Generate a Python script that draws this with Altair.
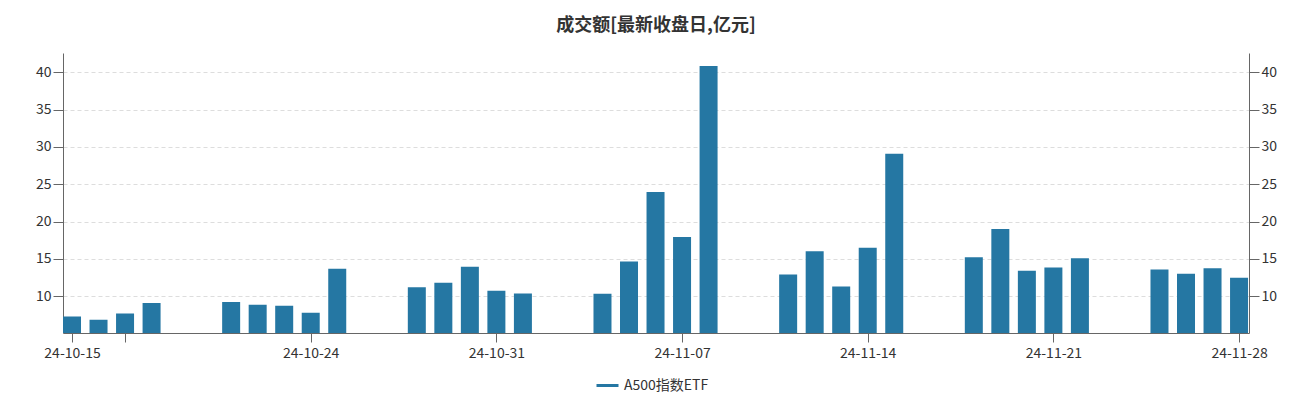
import altair as alt
import pandas as pd

dates = [
    "2024-10-15", "2024-10-16", "2024-10-17", "2024-10-18",
    "2024-10-21", "2024-10-22", "2024-10-23", "2024-10-24", "2024-10-25",
    "2024-10-28", "2024-10-29", "2024-10-30", "2024-10-31", "2024-11-01",
    "2024-11-04", "2024-11-05", "2024-11-06", "2024-11-07", "2024-11-08",
    "2024-11-11", "2024-11-12", "2024-11-13", "2024-11-14", "2024-11-15",
    "2024-11-18", "2024-11-19", "2024-11-20", "2024-11-21", "2024-11-22",
    "2024-11-25", "2024-11-26", "2024-11-27", "2024-11-28",
]
values = [
    7.27, 6.83, 7.67, 9.06,
    9.20, 8.84, 8.70, 7.76, 13.65,
    11.20, 11.78, 13.92, 10.71, 10.35,
    10.31, 14.63, 23.96, 17.94, 40.87,
    12.89, 16.02, 11.29, 16.47, 29.09,
    15.22, 19.00, 13.39, 13.83, 15.09,
    13.56, 12.98, 13.75, 12.45,
]
series_name = "A500指数ETF"
tick_dates = [(2024, 10, 15), (2024, 10, 17), (2024, 10, 24), (2024, 10, 31),
              (2024, 11, 7), (2024, 11, 14), (2024, 11, 21), (2024, 11, 28)]
y_ticks = [10, 15, 20, 25, 30, 35, 40]

FONT = "Noto Sans CJK SC"
BAR = "#2577a3"

df = pd.DataFrame({"date": [d + "T00:00:00Z" for d in dates], "value": values,
                   "series": series_name})

x_domain = [alt.DateTime(year=2024, month=10, date=14, hours=15, minutes=51, utc=True),
            alt.DateTime(year=2024, month=11, date=28, hours=9, minutes=0, utc=True)]
x_vals = [alt.DateTime(year=y, month=m, date=d, utc=True) for (y, m, d) in tick_dates]
y_scale = alt.Scale(domain=[5.05, 42.6], nice=False, zero=False)
x_scale = alt.Scale(type="utc", domain=x_domain, padding=0)

x_enc = alt.X("date:T", title=None, scale=x_scale,
              axis=alt.Axis(values=x_vals, grid=False, tickSize=9, labelPadding=4,
                            labelExpr="utcFormat(datum.value,'%m-%d')=='10-17' ? '' : utcFormat(datum.value,'%y-%m-%d')",
                            labelFontSize=14, labelColor="#333", labelFont=FONT,
                            domainColor="#666", tickColor="#666", labelOverlap=False))

bars = alt.Chart(df).mark_bar(size=18, clip=True).encode(
    x=x_enc,
    y=alt.Y("value:Q", title=None, scale=y_scale,
            axis=alt.Axis(values=y_ticks, orient="left", tickSize=10, labelPadding=2,
                          labelFontSize=14, labelColor="#333", labelFont=FONT,
                          domainColor="#666", tickColor="#666",
                          grid=True, gridColor="#dddddd", gridDash=[4, 3])),
    color=alt.Color("series:N", title=None,
                    scale=alt.Scale(range=[BAR]),
                    legend=alt.Legend(orient="none", legendX=532, legendY=320,
                                      direction="horizontal", symbolType="stroke",
                                      symbolStrokeWidth=3, symbolSize=484,
                                      symbolStrokeColor=BAR, padding=0,
                                      labelFontSize=14, labelColor="#333",
                                      labelFont=FONT)),
)

right = alt.Chart(df).mark_bar(size=18, opacity=0, clip=True).encode(
    x=x_enc,
    y=alt.Y("value:Q", title=None, scale=y_scale,
            axis=alt.Axis(values=y_ticks, orient="right", tickSize=10, labelPadding=2,
                          labelFontSize=14, labelColor="#333", labelFont=FONT,
                          domainColor="#666", tickColor="#666", grid=False)),
)

chart = alt.layer(bars, right).resolve_axis(y="independent").properties(
    width=1186, height=280,
    autosize=alt.AutoSizeParams(type="none"),
    padding={"left": 55, "top": 45, "right": 55, "bottom": 64},
    title=alt.TitleParams("成交额[最新收盘日,亿元]", fontSize=18, fontWeight="bold",
                          color="#333", font=FONT, anchor="middle", offset=18),
).configure_view(stroke=None)

chart.save("out.html", embed_options={"renderer": "svg", "actions": False})
